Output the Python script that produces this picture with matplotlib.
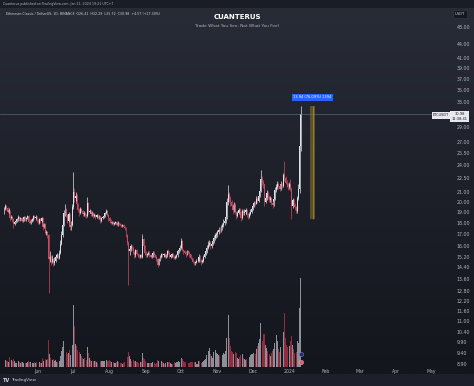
import datetime as dt
import numpy as np
import matplotlib
matplotlib.use('Agg')
import matplotlib.pyplot as plt
import matplotlib.dates as mdates
from matplotlib.colors import LinearSegmentedColormap
from matplotlib.patches import Rectangle
from matplotlib.ticker import NullLocator, NullFormatter

# daily candles, ETCUSDT 1D, 2023-05-03 .. 2024-01-11 (open = previous close)
start_date = dt.date(2023, 5, 3)
first_open = 19.0

close_may = [19.3, 19.6, 19.4, 19.0, 19.2, 18.4, 18.5, 18.3, 17.9, 18.1,
             18.2, 18.3, 18.5, 18.3, 18.4, 18.2, 18.3, 18.5, 18.3, 18.4,
             18.6, 18.1, 18.0, 18.2, 18.3, 18.6, 18.4, 18.5, 18.2]
high_may = [19.5, 19.8, 19.7, 19.5, 19.4, 19.2, 18.7, 18.6, 18.4, 18.2,
            18.3, 18.4, 18.7, 18.6, 18.5, 18.5, 18.4, 18.6, 18.6, 18.5,
            18.7, 18.7, 18.3, 18.3, 18.4, 18.7, 18.7, 18.7, 18.6]
low_may = [18.8, 19.2, 19.2, 18.9, 18.9, 18.2, 18.3, 18.1, 17.5, 17.8,
           18.0, 18.1, 18.2, 18.2, 18.2, 18.1, 18.1, 18.2, 18.2, 18.2,
           18.3, 18.0, 17.9, 17.9, 18.1, 18.2, 18.3, 18.3, 18.1]
vol_may = [650, 720, 600, 580, 520, 980, 700, 560, 820, 640,
           450, 420, 560, 480, 430, 510, 460, 430, 400, 450,
           480, 560, 520, 470, 400, 440, 470, 420, 480]

close_jun = [18.0, 18.3, 18.2, 18.4, 17.6, 17.9, 17.1, 17.2, 16.9, 15.0,
             15.2, 14.8, 15.0, 14.7, 14.9, 15.2, 15.3, 15.1, 15.5, 16.2,
             16.9, 17.8, 18.9, 19.3, 18.7, 18.2, 18.8, 17.6, 17.8, 19.5]
high_jun = [18.3, 18.4, 18.4, 18.5, 18.5, 18.0, 18.0, 17.4, 17.3, 17.0,
            15.6, 15.3, 15.3, 15.1, 15.2, 15.4, 15.5, 15.4, 15.7, 16.5,
            17.3, 18.2, 19.2, 19.8, 19.4, 18.8, 19.0, 18.9, 18.2, 19.8]
low_jun = [17.9, 17.9, 18.0, 18.1, 17.4, 17.5, 17.0, 16.9, 16.7, 12.7,
           14.8, 14.6, 14.7, 14.5, 14.6, 14.8, 15.1, 15.0, 15.0, 15.4,
           16.1, 16.8, 17.7, 18.6, 18.5, 18.0, 18.1, 17.4, 17.4, 17.7]
vol_jun = [520, 480, 400, 430, 900, 640, 820, 700, 760, 2700,
           1300, 900, 700, 760, 620, 680, 540, 500, 620, 1100,
           1600, 2000, 2600, 2300, 1500, 1300, 1400, 1700, 1200, 2200]

close_jul = [21.0, 20.4, 20.6, 19.8, 19.2, 18.9, 19.3, 19.1, 18.8, 18.9,
             18.7, 18.6, 19.9, 19.0, 19.1, 18.8, 18.9, 18.6, 18.7, 18.5,
             18.7, 18.4, 18.6, 18.2, 18.4, 18.5, 18.6, 18.9, 19.1, 18.7, 18.4]
high_jul = [23.2, 21.4, 21.0, 20.8, 19.9, 19.4, 19.5, 19.4, 19.2, 19.1,
            19.0, 18.9, 20.5, 20.0, 19.3, 19.2, 19.1, 19.0, 18.9, 18.8,
            18.8, 18.8, 18.7, 18.6, 18.5, 18.6, 18.8, 19.0, 19.3, 19.2, 18.8]
low_jul = [19.3, 20.0, 20.1, 19.6, 19.0, 18.6, 18.8, 19.0, 18.6, 18.6,
           18.5, 18.4, 18.5, 18.8, 18.9, 18.6, 18.6, 18.4, 18.5, 18.3,
           18.4, 18.3, 18.3, 18.0, 18.1, 18.3, 18.4, 18.5, 18.8, 18.6, 18.2]
vol_jul = [6200, 4100, 2300, 2100, 1700, 1500, 1300, 1100, 900, 800,
           900, 750, 2000, 1400, 900, 700, 650, 600, 640, 560,
           500, 450, 480, 600, 560, 620, 560, 640, 700, 650, 600]

close_aug = [18.2, 18.0, 18.1, 17.9, 18.0, 18.1, 17.8, 18.0, 17.9, 17.8,
             17.7, 17.8, 17.6, 17.5, 16.9, 16.3, 15.6, 15.8, 16.0, 15.9,
             15.5, 15.3, 15.7, 15.4, 15.3, 15.2, 15.3, 15.2, 16.6, 16.0, 15.5]
high_aug = [18.5, 18.3, 18.2, 18.2, 18.1, 18.2, 18.2, 18.2, 18.1, 18.0,
            17.9, 17.9, 17.9, 17.7, 17.6, 17.0, 16.4, 16.0, 16.2, 16.1,
            16.0, 15.6, 15.8, 15.8, 15.5, 15.4, 15.4, 15.4, 17.0, 16.7, 16.1]
low_aug = [18.0, 17.9, 17.9, 17.8, 17.8, 17.9, 17.7, 17.7, 17.8, 17.7,
           17.6, 17.6, 17.5, 17.4, 16.8, 16.1, 13.2, 15.3, 15.6, 15.7,
           15.4, 15.1, 15.2, 15.3, 15.2, 15.1, 15.1, 15.1, 15.1, 15.8, 15.3]
vol_aug = [680, 560, 500, 460, 380, 400, 520, 560, 480, 450,
           400, 340, 360, 500, 900, 1000, 1500, 1100, 800, 600,
           700, 620, 640, 520, 480, 420, 460, 500, 1400, 900, 800]

close_sep = [15.3, 15.4, 15.5, 15.3, 15.2, 15.3, 15.5, 15.3, 15.2, 15.0,
             14.6, 15.0, 15.2, 15.4, 15.3, 15.4, 15.2, 15.3, 15.6, 15.5,
             15.2, 15.3, 15.4, 15.2, 15.1, 15.2, 15.3, 15.6, 15.7, 15.9]
high_sep = [15.6, 15.5, 15.6, 15.6, 15.4, 15.4, 15.6, 15.6, 15.4, 15.3,
            15.1, 15.1, 15.3, 15.5, 15.5, 15.5, 15.5, 15.4, 15.7, 15.8,
            15.6, 15.4, 15.5, 15.5, 15.3, 15.3, 15.4, 15.7, 15.9, 16.1]
low_sep = [15.2, 15.2, 15.3, 15.2, 15.1, 15.1, 15.2, 15.2, 15.1, 14.9,
           14.4, 14.6, 14.9, 15.1, 15.2, 15.2, 15.1, 15.1, 15.2, 15.4,
           15.1, 15.1, 15.2, 15.1, 15.0, 15.0, 15.1, 15.2, 15.5, 15.6]
vol_sep = [600, 420, 380, 420, 400, 420, 460, 440, 320, 420,
           700, 620, 540, 560, 480, 360, 330, 420, 520, 480,
           500, 420, 340, 300, 460, 420, 460, 540, 600, 520]

close_oct = [16.4, 15.7, 15.6, 15.5, 15.4, 15.6, 15.5, 15.4, 15.1, 15.0,
             14.8, 14.7, 14.8, 14.9, 14.9, 15.2, 14.9, 14.8, 14.9, 15.2,
             15.4, 15.6, 15.9, 16.1, 16.3, 16.0, 16.2, 16.4, 16.7, 16.9, 17.0]
high_oct = [16.7, 16.5, 15.8, 15.7, 15.6, 15.7, 15.7, 15.6, 15.4, 15.2,
            15.1, 14.9, 14.9, 15.0, 15.0, 15.4, 15.3, 15.0, 15.0, 15.3,
            15.6, 15.7, 16.1, 16.4, 16.5, 16.4, 16.3, 16.5, 16.9, 17.1, 17.2]
low_oct = [15.8, 15.6, 15.4, 15.4, 15.2, 15.3, 15.4, 15.2, 15.0, 14.9,
           14.7, 14.6, 14.6, 14.7, 14.8, 14.8, 14.8, 14.6, 14.7, 14.8,
           15.1, 15.3, 15.5, 15.8, 16.0, 15.8, 15.9, 16.1, 16.3, 16.5, 16.7]
vol_oct = [900, 800, 600, 500, 480, 420, 360, 380, 520, 500,
           540, 520, 460, 340, 320, 600, 560, 440, 460, 640,
           700, 800, 1200, 1600, 1900, 1300, 1100, 900, 1500, 1700, 1400]

close_nov = [17.2, 17.4, 17.3, 17.6, 17.8, 18.0, 18.2, 18.5, 20.0, 20.8,
             20.3, 20.0, 19.6, 19.2, 19.7, 19.0, 18.6, 18.9, 19.2, 19.0,
             18.4, 19.1, 18.9, 19.0, 19.2, 18.7, 18.5, 18.8, 19.0, 19.3]
high_nov = [17.4, 17.6, 17.6, 17.8, 18.0, 18.3, 18.4, 18.8, 20.4, 21.7,
            21.0, 20.6, 20.2, 19.8, 20.0, 19.9, 19.1, 19.1, 19.4, 19.4,
            19.1, 19.3, 19.3, 19.3, 19.4, 19.3, 18.9, 19.0, 19.3, 19.5]
low_nov = [16.8, 17.0, 17.1, 17.2, 17.4, 17.6, 17.8, 18.0, 18.3, 19.7,
           20.0, 19.6, 19.3, 18.8, 19.0, 18.8, 18.3, 18.5, 18.8, 18.8,
           18.2, 18.3, 18.7, 18.7, 18.8, 18.5, 18.3, 18.4, 18.7, 18.9]
vol_nov = [1300, 1200, 1100, 1000, 1200, 1400, 1300, 1600, 2900, 5200,
           2900, 2100, 1600, 1500, 1300, 1500, 1400, 900, 800, 1000,
           1200, 1300, 900, 800, 700, 800, 1100, 1000, 1200, 1300]

close_dec = [19.6, 19.9, 19.8, 20.3, 20.1, 20.6, 21.1, 22.4, 22.1, 21.8,
             20.0, 20.4, 20.9, 20.5, 20.2, 20.4, 19.9, 19.7, 20.3, 21.2,
             21.5, 21.9, 21.6, 21.3, 21.9, 21.6, 22.9, 22.5, 22.0, 21.8, 21.5]
high_dec = [19.8, 20.1, 20.1, 20.6, 20.5, 20.9, 21.4, 23.4, 22.7, 22.3,
            21.9, 20.7, 21.2, 21.1, 20.7, 20.6, 20.5, 20.1, 20.5, 21.5,
            21.9, 22.2, 22.1, 21.8, 22.2, 22.0, 23.1, 24.5, 22.8, 22.3, 22.0]
low_dec = [19.2, 19.5, 19.6, 19.8, 19.9, 20.0, 20.5, 21.0, 21.7, 21.4,
           19.6, 19.9, 20.2, 20.3, 20.0, 20.0, 19.7, 19.4, 19.6, 20.2,
           21.0, 21.3, 21.3, 21.1, 21.2, 21.4, 21.5, 22.2, 21.8, 21.5, 21.2]
vol_dec = [1300, 1400, 1300, 1800, 2100, 2400, 2800, 4400, 2600, 3300,
           3300, 2200, 1900, 1600, 1300, 1100, 1400, 1600, 1800, 2400,
           3200, 2600, 1800, 1500, 2000, 1900, 3500, 5400, 2900, 2200, 2000]

close_jan = [21.9, 21.3, 19.6, 20.2, 19.7, 19.5, 19.1, 20.4, 21.3, 26.41, 30.98]
high_jan = [22.1, 22.4, 21.5, 20.4, 20.3, 19.9, 19.6, 20.6, 21.8, 26.9, 32.29]
low_jan = [21.3, 21.1, 18.32, 19.4, 19.5, 19.2, 18.9, 18.9, 20.2, 20.9, 25.72]
vol_jan = [2100, 2600, 3100, 2200, 1800, 1400, 1500, 2600, 2400, 5900, 8900]

price_ticks = [8.90, 9.40, 9.90, 10.40, 11.00, 11.60, 12.20, 12.80, 13.60, 14.40,
               15.20, 16.00, 17.00, 18.00, 19.00, 20.00, 21.00, 22.50, 24.00, 25.50,
               27.00, 29.00, 33.00, 35.00, 37.00, 39.00, 41.00, 44.00, 48.00]
month_ticks = ['2023-06-01', '2023-07-01', '2023-08-01', '2023-09-01', '2023-10-01',
               '2023-11-01', '2023-12-01', '2024-01-01', '2024-02-01', '2024-03-01',
               '2024-04-01', '2024-05-01']
month_labels = ['Jun', 'Jul', 'Aug', 'Sep', 'Oct', 'Nov', 'Dec', '2024', 'Feb', 'Mar', 'Apr', 'May']

last_price = 30.98
range_low, range_high = 18.32, 32.26
range_dates = ('2024-01-19', '2024-01-23')

closes = np.array(close_may + close_jun + close_jul + close_aug + close_sep
                  + close_oct + close_nov + close_dec + close_jan)
highs = np.array(high_may + high_jun + high_jul + high_aug + high_sep
                 + high_oct + high_nov + high_dec + high_jan)
lows = np.array(low_may + low_jun + low_jul + low_aug + low_sep
                + low_oct + low_nov + low_dec + low_jan)
volumes = np.array(vol_may + vol_jun + vol_jul + vol_aug + vol_sep
                   + vol_oct + vol_nov + vol_dec + vol_jan)
opens = np.concatenate([[first_open], closes[:-1]])
dates = [start_date + dt.timedelta(days=i) for i in range(len(closes))]
x = mdates.date2num(dates)

UP, DOWN = '#dfe1e8', '#cc4b5e'
VUP, VDOWN = '#8d9099', '#912c3f'
TXT = '#b2b5be'

W, H = 474, 386
fig = plt.figure(figsize=(W / 100, H / 100), dpi=100)
fig.patch.set_facecolor('#1c1f29')


def fx(px):
    return px / W


def fy(py):
    return 1 - py / H


pane_top, pane_bot, pane_right = 8, 367, 444

# gradient background of the chart + price scale
bg = fig.add_axes([0, fy(374), 1, (374 - pane_top) / H])
cmap = LinearSegmentedColormap.from_list('bg', ['#282c37', '#1d2029', '#13161d'])
bg.imshow(np.linspace(0, 1, 256).reshape(-1, 1), aspect='auto', cmap=cmap,
          extent=[0, 1, 0, 1], origin='upper')
bg.axis('off')

rect = [0, fy(pane_bot), fx(pane_right), (pane_bot - pane_top) / H]
axv = fig.add_axes(rect)
ax = fig.add_axes(rect, sharex=axv)
for a in (axv, ax):
    a.patch.set_alpha(0)
    for s in a.spines.values():
        s.set_visible(False)

# volume overlay
up = closes >= opens
axv.bar(x, volumes, width=0.82, color=np.where(up, VUP, VDOWN), linewidth=0)
axv.set_ylim(0, 35900)
axv.set_yticks([])

# candles
cols = np.where(up, UP, DOWN)
ax.vlines(x, lows, highs, colors=cols, linewidth=0.5)
ax.bar(x, np.abs(closes - opens), bottom=np.minimum(opens, closes), width=0.82,
       color=cols, linewidth=0)

ax.set_yscale('log')
ax.set_ylim(8.75, 52.7)
d0 = mdates.date2num(dt.date(2023, 6, 1))
ax.set_xlim(d0 - 32.4, d0 + 346.1)

ax.yaxis.tick_right()
ax.set_yticks(price_ticks)
ax.set_yticklabels([f'{t:.2f}' for t in price_ticks])
ax.yaxis.set_minor_locator(NullLocator())
ax.yaxis.set_minor_formatter(NullFormatter())
ax.tick_params(axis='y', length=0, pad=9, labelsize=3.4, colors=TXT)
ax.set_xticks(mdates.datestr2num(month_ticks))
ax.set_xticklabels(month_labels)
ax.tick_params(axis='x', length=0, pad=1.5, labelsize=3.3, colors=TXT)
axv.tick_params(axis='x', length=0, labelbottom=False)

# last price line
ax.axhline(last_price, color='#6f737d', linewidth=0.4)

# price range tool
r0, r1 = mdates.datestr2num(range_dates)
ax.add_patch(Rectangle((r0, range_low), r1 - r0, range_high - range_low,
                       facecolor='#b8962a', alpha=0.4, edgecolor='none'))
ax.vlines((r0 + r1) / 2, range_low, range_high, colors='#d0ac38', linewidth=0.5, alpha=0.7)
ax.text((r0 + r1) / 2, range_high * 1.035, '13.94 (76.09%) 1394', ha='center', va='bottom',
        fontsize=2.6, color='white',
        bbox=dict(boxstyle='square,pad=0.35', fc='#2962ff', ec='none'))

# event icons under the last bar
ax.scatter([x[-1] + 0.5], [9.33], s=9, color='#1f2a57', edgecolors='#6d8be8', linewidths=0.4, zorder=5)
ax.scatter([x[-1] + 0.5], [8.99], s=9, color='#e05a6c', edgecolors='#f0a0aa', linewidths=0.4, zorder=5)

# strips
fig.patches.append(Rectangle((0, fy(pane_top)), 1, pane_top / H, transform=fig.transFigure,
                             facecolor='#1a1d25', edgecolor='none', zorder=-1))
fig.patches.append(Rectangle((0, 0), 1, (H - 374) / H, transform=fig.transFigure,
                             facecolor='#1d202b', edgecolor='none', zorder=-1))

# texts
fig.text(fx(3), fy(4), 'Cuanterus published on TradingView.com, Jan 11, 2024 19:21 UTC+7',
         fontsize=2.3, color=TXT, va='center')
fig.text(fx(6), fy(14), 'Ethereum Classic / TetherUS, 1D, BINANCE  O26.41  H32.29  L25.72  C30.98  +4.57 (+17.30%)',
         fontsize=2.35, color='#d1d4dc', va='center')
fig.text(0.5, fy(17), 'CUANTERUS', fontsize=5, color='white', ha='center', va='center', fontweight='bold')
fig.text(0.5, fy(26), 'Trade What You See, Not What You Feel', fontsize=3.1, color=TXT,
         ha='center', va='center')
fig.text(fx(460), fy(14), 'USDT', fontsize=2.7, color='#d1d4dc', ha='center', va='center',
         bbox=dict(boxstyle='square,pad=0.5', fc='#131722', ec='#3a3e49', lw=0.4))
fig.text(fx(441), fy(115.5), 'ETCUSDT', fontsize=2.5, color='#131722', ha='center', va='center',
         bbox=dict(boxstyle='square,pad=0.35', fc='#e8e9ee', ec='none'))
fig.text(fx(459.5), fy(116.5), '30.98\n11:38:41', fontsize=2.6, color='#131722', ha='center',
         va='center', linespacing=1.15,
         bbox=dict(boxstyle='square,pad=0.35', fc='#e8e9ee', ec='none'))
fig.text(fx(3), fy(380), 'TV', fontsize=3.6, color='#d1d4dc', va='center', fontweight='bold')
fig.text(fx(11), fy(380), 'TradingView', fontsize=3, color='#d1d4dc', va='center')

fig.savefig('out.png', dpi=100, facecolor=fig.get_facecolor())
